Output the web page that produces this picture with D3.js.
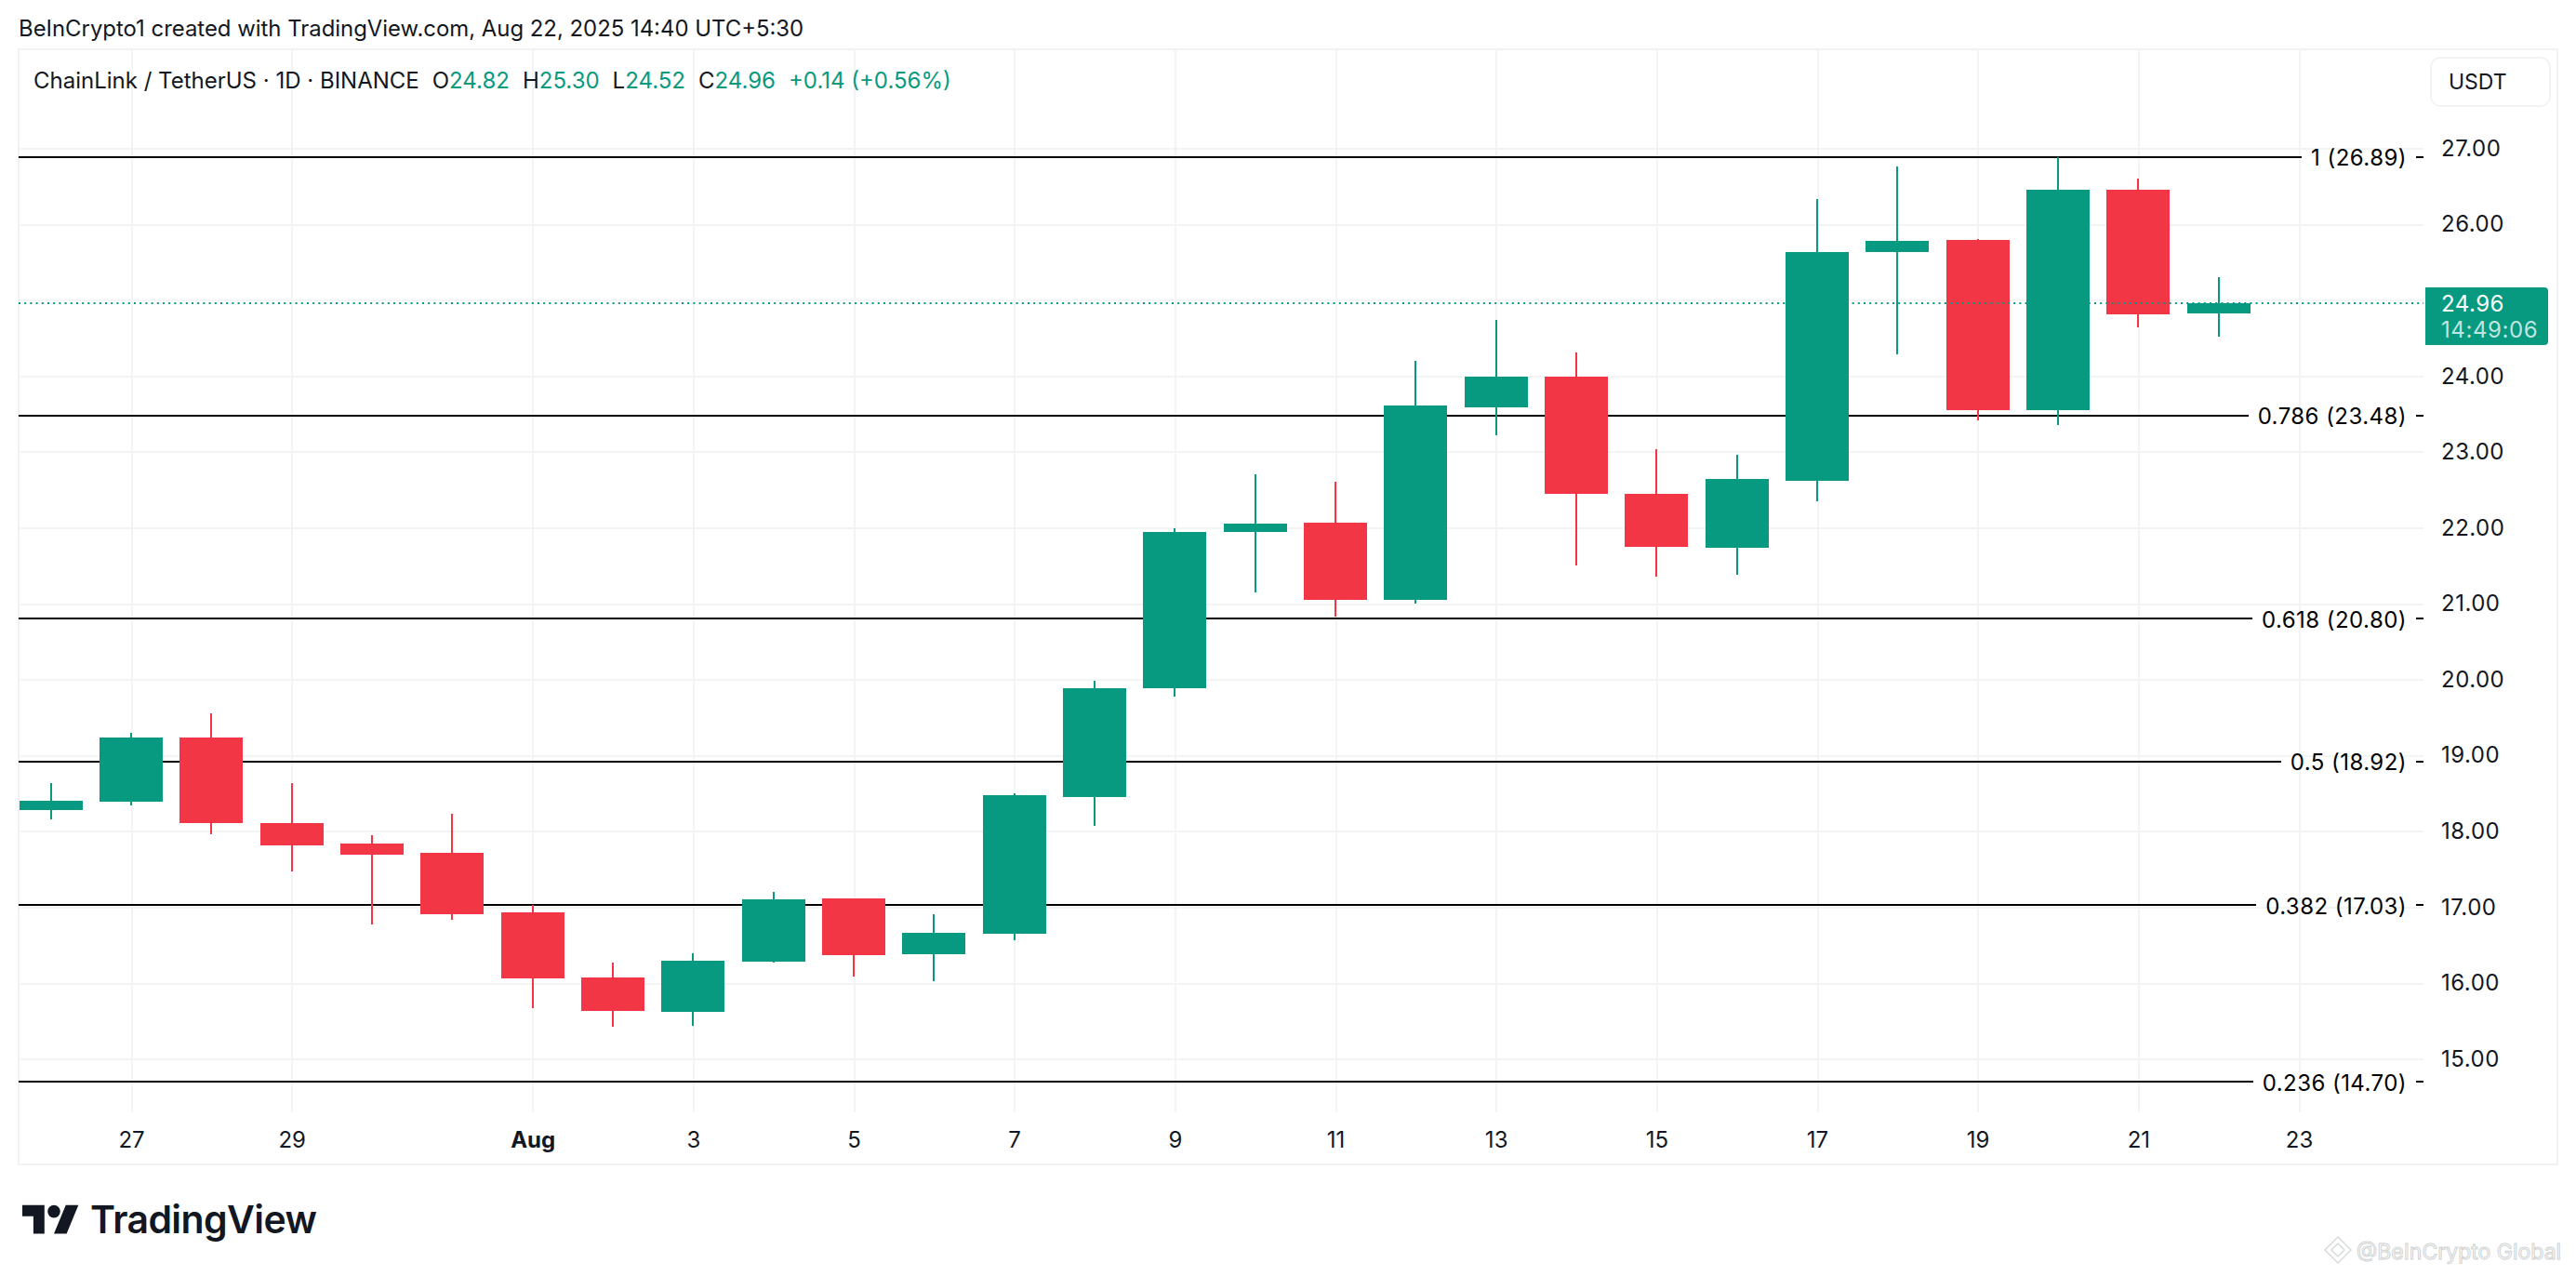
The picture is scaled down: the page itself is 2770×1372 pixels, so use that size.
<!DOCTYPE html>
<html>
<head>
<meta charset="utf-8">
<style>
  html, body { margin: 0; padding: 0; background: #fff; }
  svg { display: block; }
  text { font-family: Inter, "Noto Sans", sans-serif; }
</style>
<script src="https://cdn.jsdelivr.net/npm/d3@7"></script>
</head>
<body>
<div id="graph"></div>
<script>
var days = ["2025-07-26","2025-07-27","2025-07-28","2025-07-29","2025-07-30","2025-07-31","2025-08-01","2025-08-02","2025-08-03","2025-08-04","2025-08-05","2025-08-06","2025-08-07","2025-08-08","2025-08-09","2025-08-10","2025-08-11","2025-08-12","2025-08-13","2025-08-14","2025-08-15","2025-08-16","2025-08-17","2025-08-18","2025-08-19","2025-08-20","2025-08-21","2025-08-22"];
var opens  = [18.28,18.39,19.24,18.11,17.84,17.72,16.93,16.07,15.62,16.28,17.12,16.38,16.65,18.45,19.88,21.94,22.07,21.05,23.59,23.99,22.45,21.74,22.62,25.63,25.79,23.55,26.45,24.82];
var highs  = [18.64,19.30,19.56,18.64,17.95,18.23,17.03,16.27,16.39,17.20,17.12,16.91,18.50,19.98,21.99,22.70,22.61,24.20,24.74,24.31,23.04,22.96,26.33,26.76,25.81,26.89,26.60,25.30];
var lows   = [18.16,18.34,17.96,17.47,16.77,16.83,15.67,15.42,15.44,16.27,16.08,16.03,16.57,18.07,19.78,21.15,20.83,21.00,23.22,21.50,21.36,21.38,22.35,24.29,23.42,23.36,24.64,24.52];
var closes = [18.40,19.24,18.11,17.82,17.69,16.91,16.06,15.63,16.30,17.10,16.37,16.66,18.48,19.89,21.94,22.06,21.05,23.61,23.99,22.45,21.75,22.64,25.64,25.78,23.55,26.45,24.81,24.96];

var fibRatios = ["1","0.786","0.618","0.5","0.382","0.236"];
var fibLevels = [26.89,23.48,20.80,18.92,17.03,14.70];

var priceTicks = [15,16,17,18,19,20,21,22,23,24,25,26,27];
var timeTicks = ["2025-07-27","2025-07-29","2025-08-01","2025-08-03","2025-08-05","2025-08-07","2025-08-09","2025-08-11","2025-08-13","2025-08-15","2025-08-17","2025-08-19","2025-08-21","2025-08-23"];

var lastPrice = 24.96;
var countdown = "14:49:06";
var legendName = "ChainLink / TetherUS · 1D · BINANCE";
var legendKeys = ["O","H","L","C"];
var legendVals = ["24.82","25.30","24.52","24.96"];
var legendChange = "+0.14 (+0.56%)";

var green = "#089981", red = "#f23645", ink = "#131722", gridCol = "#f3f4f4";

var candles = days.map(function(d, i) {
  return {day: new Date(d), o: opens[i], h: highs[i], l: lows[i], c: closes[i]};
});

var left = 20, right = 2606, top_ = 53, bottom = 1196;

var x = d3.scaleUtc().domain([new Date("2025-07-27"), new Date("2025-08-23")]).range([141, 2472]);
var y = d3.scaleLinear().domain([27, 15]).range([159.6, 1138.6]);

var vis = d3.select("#graph").append("svg").attr("width", 2770).attr("height", 1372);

vis.append("rect").attr("width", 2770).attr("height", 1372).attr("fill", "#fff");

// header
vis.append("text").attr("x", 20).attr("y", 39)
   .attr("font-size", 23.9).attr("fill", ink)
   .text("BeInCrypto1 created with TradingView.com, Aug 22, 2025 14:40 UTC+5:30");

// frame
vis.append("rect").attr("x", left).attr("y", top_).attr("width", 2750 - left).attr("height", 1252 - top_)
   .attr("fill", "none").attr("stroke", "#f2f2f2").attr("stroke-width", 2);

// axes + gridlines
var yAxis = d3.axisRight(y).tickValues(priceTicks).tickSize(-(right - left)).tickPadding(19)
  .tickFormat(function(d) { return d === 25 ? "" : d.toFixed(2); });
var yG = vis.append("g").attr("transform", "translate(" + right + ",0)").call(yAxis);

var xAxis = d3.axisBottom(x).tickValues(timeTicks.map(function(d) { return new Date(d); }))
  .tickSize(-(bottom - top_)).tickPadding(30)
  .tickFormat(function(d) { return d.getUTCDate() === 1 ? "Aug" : d.getUTCDate(); });
var xG = vis.append("g").attr("transform", "translate(0," + bottom + ")").call(xAxis);

[yG, xG].forEach(function(g) {
  g.select(".domain").remove();
  g.selectAll(".tick line").attr("stroke", gridCol).attr("stroke-width", 2).attr("shape-rendering", "crispEdges");
  g.selectAll(".tick text").attr("fill", ink).attr("font-size", 24).attr("font-family", "Inter");
});
yG.selectAll(".tick text").attr("letter-spacing", 0.5);
xG.selectAll(".tick text").attr("dy", "0.35em")
  .attr("font-weight", function(d) { return d.getUTCDate() === 1 ? 700 : 400; });

// fib levels
var fibs = vis.selectAll("g.fib").data(fibLevels).enter().append("g").attr("class", "fib");
fibs.append("text")
   .attr("x", 2588).attr("y", function(d) { return y(d); }).attr("dy", "0.4em")
   .attr("text-anchor", "end").attr("font-size", 24).attr("letter-spacing", 0.45).attr("fill", "#000")
   .text(function(d, i) { return fibRatios[i] + " (" + d.toFixed(2) + ")"; });
fibs.append("line")
   .attr("x1", left)
   .attr("x2", function() { return 2588 - this.parentNode.querySelector("text").getComputedTextLength() - 10; })
   .attr("y1", function(d) { return y(d); }).attr("y2", function(d) { return y(d); })
   .attr("stroke", "#000").attr("stroke-width", 2).attr("shape-rendering", "crispEdges");
fibs.append("line")
   .attr("x1", 2598).attr("x2", right)
   .attr("y1", function(d) { return y(d); }).attr("y2", function(d) { return y(d); })
   .attr("stroke", "#000").attr("stroke-width", 2).attr("shape-rendering", "crispEdges");

// candles
var colour = function(d) { return d.c >= d.o ? green : red; };
var cg = vis.selectAll("g.candle").data(candles).enter().append("g").attr("class", "candle");
cg.append("rect")
   .attr("x", function(d) { return x(d.day) - 1; })
   .attr("y", function(d) { return y(d.h); })
   .attr("width", 2)
   .attr("height", function(d) { return y(d.l) - y(d.h); })
   .attr("fill", colour).attr("shape-rendering", "crispEdges");
cg.append("rect")
   .attr("x", function(d) { return x(d.day) - 34; })
   .attr("y", function(d) { return y(Math.max(d.o, d.c)); })
   .attr("width", 68)
   .attr("height", function(d) { return y(Math.min(d.o, d.c)) - y(Math.max(d.o, d.c)); })
   .attr("fill", colour).attr("shape-rendering", "crispEdges");

// last price line
vis.append("line")
   .attr("x1", left).attr("x2", right)
   .attr("y1", y(lastPrice)).attr("y2", y(lastPrice))
   .attr("stroke", green).attr("stroke-width", 2).attr("stroke-dasharray", "2 4.2");

// price tag
vis.append("path").attr("d", "M2608 309H2736a4 4 0 0 1 4 4V367a4 4 0 0 1 -4 4H2608Z").attr("fill", green);
vis.append("text").attr("x", 2625).attr("y", y(lastPrice)).attr("dy", "0.37em")
   .attr("font-size", 24).attr("letter-spacing", 0.5).attr("fill", "#fff").text(lastPrice.toFixed(2));
vis.append("text").attr("x", 2625).attr("y", 354).attr("dy", "0.37em")
   .attr("font-size", 24).attr("letter-spacing", 0.6).attr("fill", "#fff").attr("fill-opacity", 0.75).text(countdown);

// currency button
vis.append("rect").attr("x", 2614).attr("y", 62).attr("width", 128).attr("height", 52).attr("rx", 10)
   .attr("fill", "#fff").attr("stroke", "#f0f0f0").attr("stroke-width", 1.5);
vis.append("text").attr("x", 2633).attr("y", 87).attr("dy", "0.37em")
   .attr("font-size", 23).attr("fill", ink).text("USDT");

// legend
var legend = vis.append("text").attr("x", 36).attr("y", 86).attr("dy", "0.37em").attr("font-size", 24).attr("fill", ink);
legend.append("tspan").text(legendName);
legendKeys.forEach(function(k, i) {
  legend.append("tspan").attr("dx", 14).text(k);
  legend.append("tspan").attr("fill", green).text(legendVals[i]);
});
legend.append("tspan").attr("dx", 14).attr("fill", green).text(legendChange);

// tradingview logo
var logo = vis.append("g").attr("transform", "translate(24,1289) scale(1.7)").attr("fill", ink);
logo.append("path").attr("d", "M14 22H7V11H0V4h14v18zM28 22h-8l7.5-18h8L28 22z");
logo.append("circle").attr("cx", 20).attr("cy", 8).attr("r", 4);
vis.append("text").attr("x", 97).attr("y", 1326).attr("font-size", 41).attr("font-weight", 600)
   .attr("letter-spacing", -0.6).attr("fill", ink).text("TradingView");

// watermark
vis.append("path").attr("d", "M2514 1330l14 14-14 14-14-14zM2514 1337l7 7-7 7-7-7z")
   .attr("fill", "none").attr("stroke", "#d9dcdc").attr("stroke-width", 1.5);
vis.append("text").attr("x", 2534).attr("y", 1354).attr("font-size", 23)
   .attr("fill", "#fff").attr("stroke", "#cfd3d3").attr("stroke-width", 1)
   .text("@BeInCrypto Global");
</script>
</body>
</html>
